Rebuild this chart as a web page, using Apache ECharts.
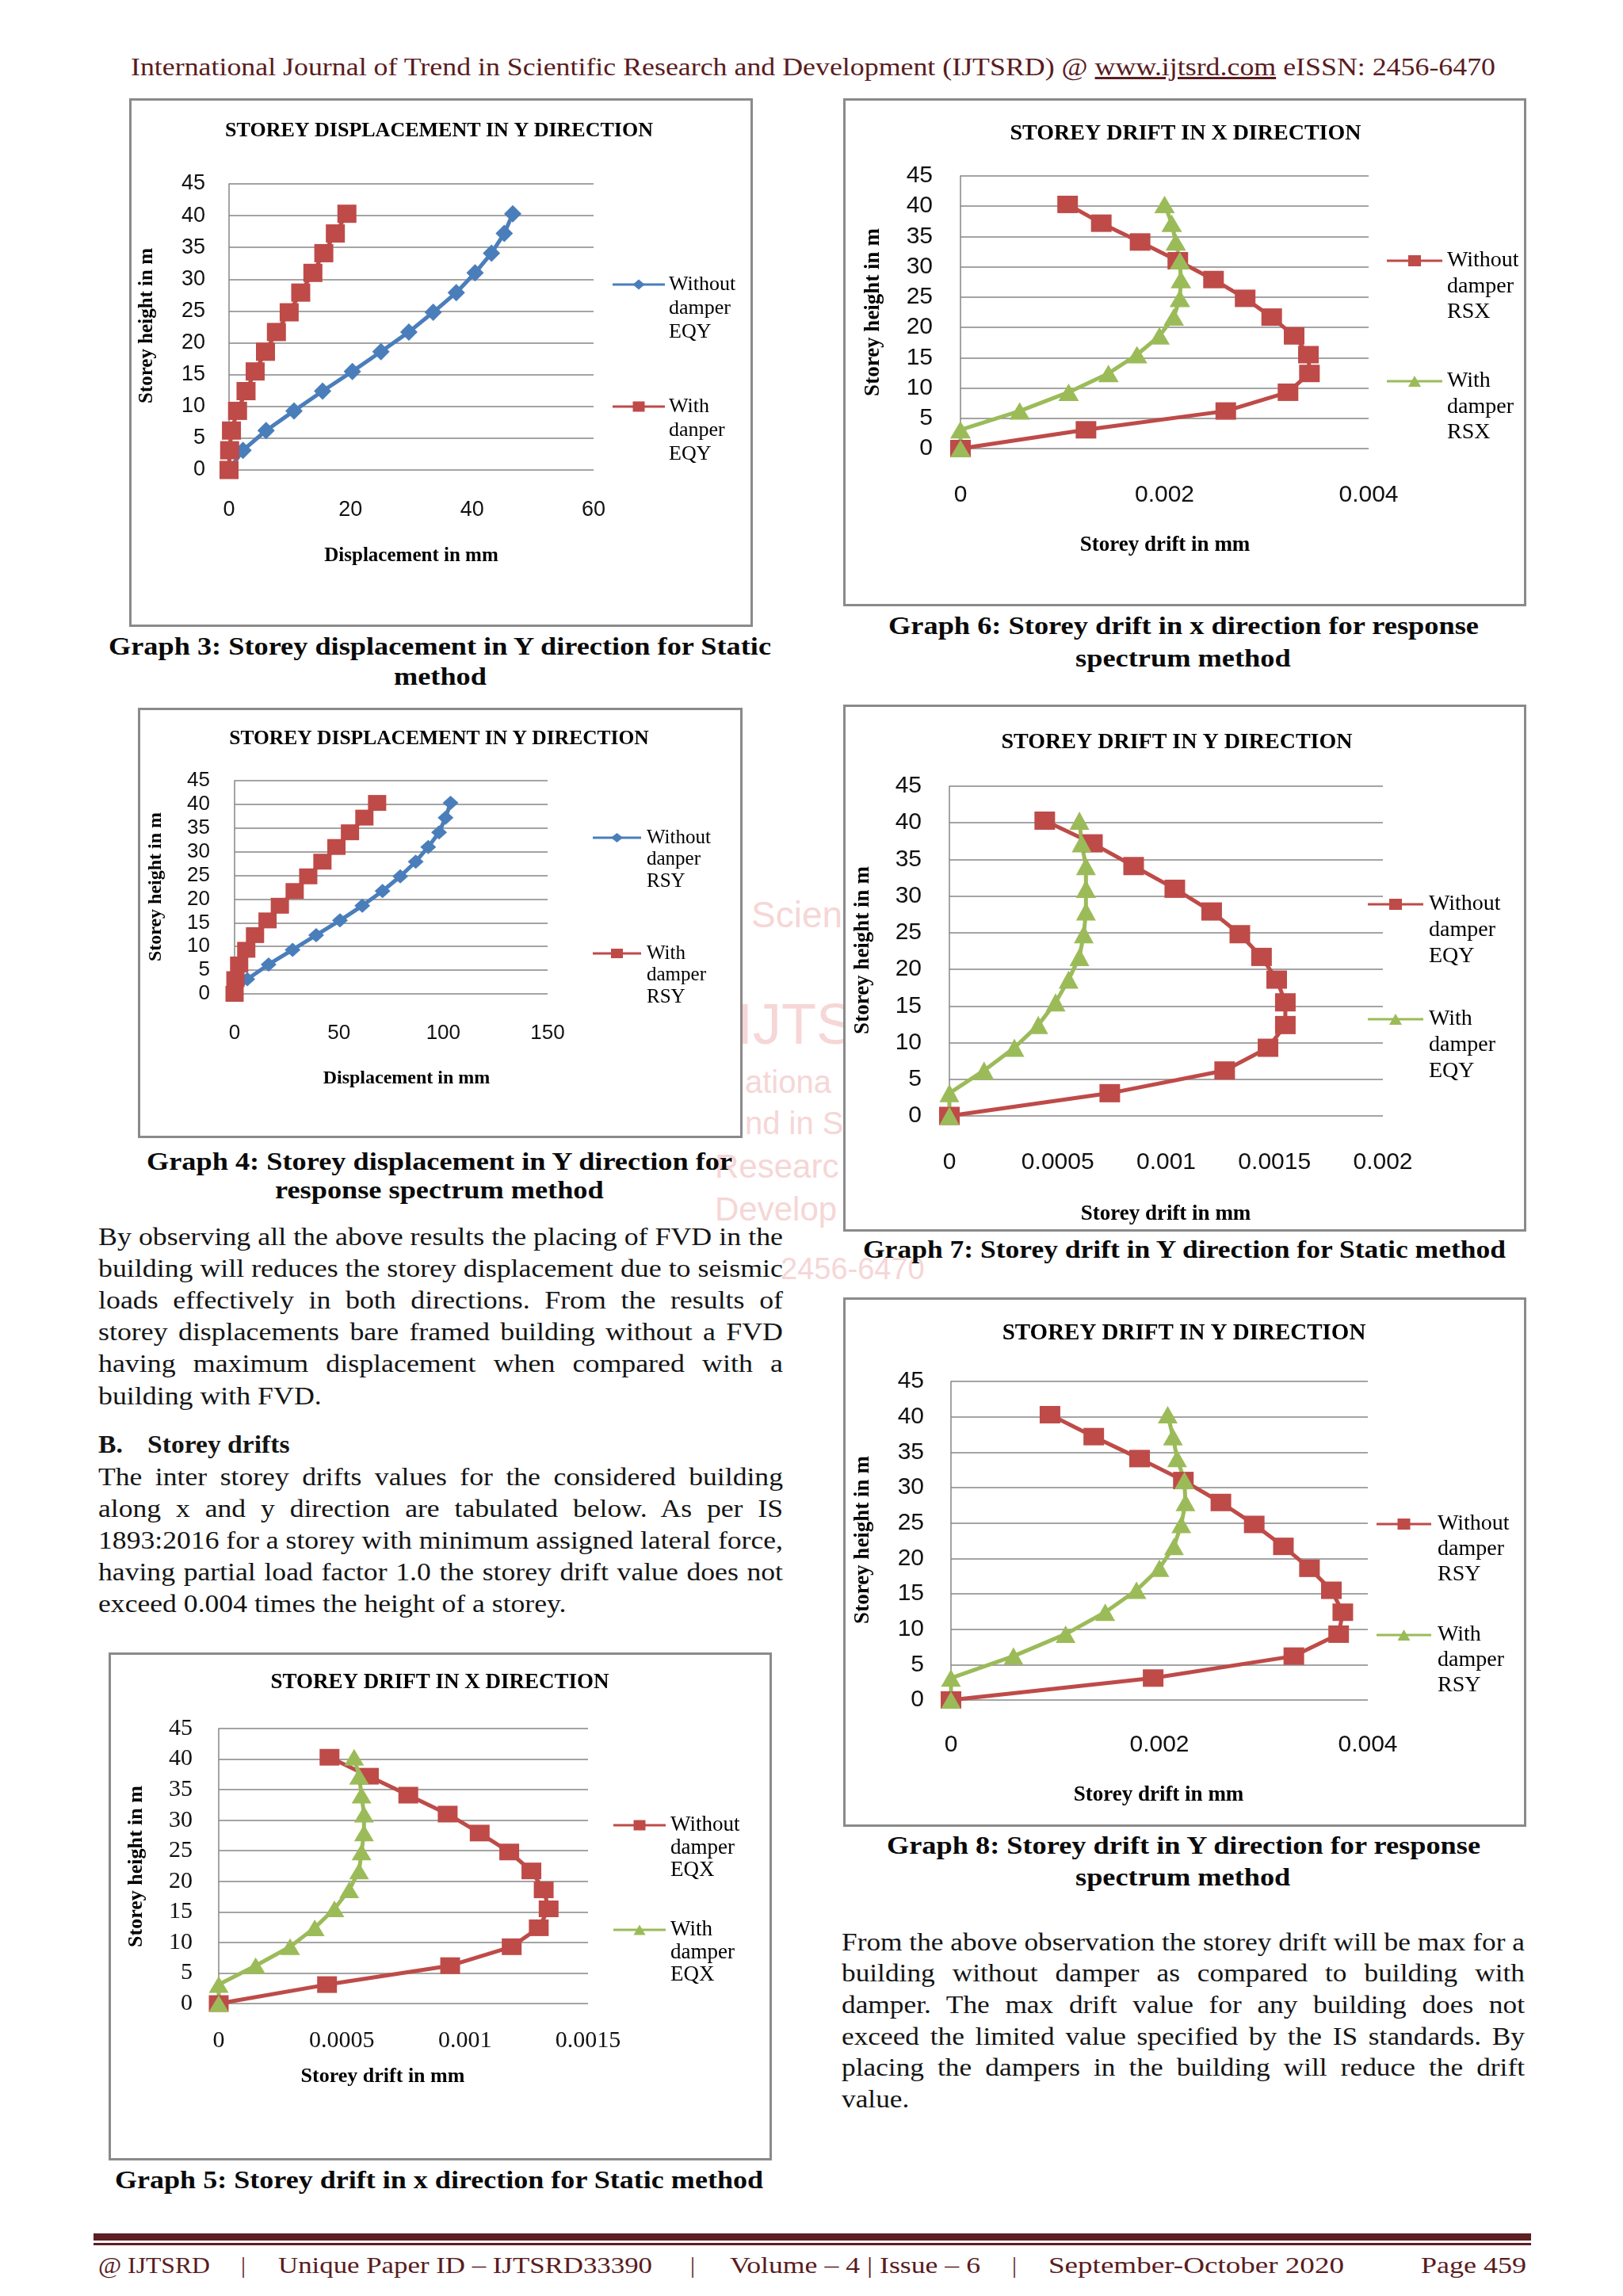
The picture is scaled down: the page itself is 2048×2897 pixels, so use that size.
<!DOCTYPE html>
<html><head><meta charset="utf-8">
<script src="https://cdn.jsdelivr.net/npm/echarts@6/dist/echarts.min.js"></script>
<style>
html,body{margin:0;padding:0;background:#fff;}
#page{position:relative;width:2048px;height:2897px;overflow:hidden;background:#fff;}
.chart{position:absolute;background:#fff;box-shadow:inset 0 0 0 3px #8a8a8a;z-index:2;}
.ln{position:absolute;white-space:nowrap;transform-origin:0 50%;z-index:3;}
.wm{position:absolute;white-space:nowrap;color:#f6d6d6;font-family:'Liberation Sans',sans-serif;z-index:1;}
.bar{position:absolute;background:#5c1f22;z-index:3;}
</style></head>
<body><div id="page"></div>
<script>
// ---------------- DATA ----------------
const storeyHeights = [0, 3.1, 6.2, 9.3, 12.4, 15.5, 18.6, 21.7, 24.8, 27.9, 31, 34.1, 37.2, 40.3];
const yTicks = [0, 5, 10, 15, 20, 25, 30, 35, 40, 45];

// Graph 3: storey displacement in Y (static)
const g3XTicks = [0, 20, 40, 60];
const g3Without = [0, 2.3, 6.1, 10.7, 15.4, 20.3, 25.0, 29.6, 33.6, 37.4, 40.5, 43.2, 45.3, 46.7];
const g3With = [0, 0.1, 0.4, 1.4, 2.8, 4.3, 6.0, 7.8, 9.9, 11.8, 13.8, 15.6, 17.5, 19.4];

// Graph 6: storey drift in X (response spectrum)
const g6XTicks = [0, 0.002, 0.004];
const g6Without = [0, 0.00123, 0.0026, 0.00321, 0.00342, 0.00341, 0.00327, 0.00305, 0.00279, 0.00248, 0.00213, 0.00176, 0.00138, 0.00105];
const g6With = [0, 0, 0.00058, 0.00106, 0.00145, 0.00173, 0.00195, 0.00209, 0.00215, 0.00216, 0.00215, 0.00211, 0.00207, 0.002];

// Graph 4: storey displacement in Y (response spectrum)
const g4XTicks = [0, 50, 100, 150];
const g4Without = [0, 6.1, 16.3, 27.8, 39.1, 50.5, 61.2, 70.9, 79.4, 86.8, 92.8, 98.0, 101.1, 103.5];
const g4With = [0, 0.4, 2.2, 5.6, 9.8, 15.8, 21.7, 28.8, 35.3, 42.1, 48.8, 55.3, 62.2, 68.3];

// Graph 7: storey drift in Y (static)
const g7XTicks = [0, 0.0005, 0.001, 0.0015, 0.002];
const g7Without = [0, 0.00074, 0.00127, 0.00147, 0.00155, 0.00155, 0.00151, 0.00144, 0.00134, 0.00121, 0.00104, 0.00085, 0.00066, 0.00044];
const g7With = [0, 0, 0.00016, 0.0003, 0.00041, 0.00049, 0.00055, 0.0006, 0.00062, 0.00063, 0.00063, 0.00063, 0.00061, 0.0006];

// Graph 8: storey drift in Y (response spectrum)
const g8XTicks = [0, 0.002, 0.004];
const g8Without = [0, 0.00194, 0.00329, 0.00372, 0.00376, 0.00365, 0.00344, 0.00319, 0.00291, 0.00259, 0.00223, 0.00181, 0.00137, 0.00095];
const g8With = [0, 0, 0.0006, 0.0011, 0.00148, 0.00178, 0.002, 0.00214, 0.00221, 0.00225, 0.00224, 0.00217, 0.00213, 0.00208];

// Graph 5: storey drift in X (static)
const g5XTicks = [0, 0.0005, 0.001, 0.0015];
const g5Without = [0, 0.00044, 0.00094, 0.00119, 0.0013, 0.00134, 0.00132, 0.00127, 0.00118, 0.00106, 0.00093, 0.00077, 0.00061, 0.00045];
const g5With = [0, 0, 0.00015, 0.00029, 0.00039, 0.00047, 0.00053, 0.00057, 0.00058, 0.00059, 0.00059, 0.00058, 0.00057, 0.00055];

// ---------------- STYLE ----------------
const BLUE = '#4a7ebb', RED = '#be4b48', GREEN = '#9bbb59';
const GRID_C = '#868686';
const SERIF = "'Liberation Serif', 'DejaVu Serif', serif";
const SANS = "'Liberation Sans', Arial, sans-serif";
const page = document.getElementById('page');

function fmt(v){ return String(parseFloat(Number(v).toPrecision(6))); }

function makeChart(c){
  const [fx, fy, fw, fh] = c.frame;
  const el = document.createElement('div');
  el.className = 'chart';
  Object.assign(el.style, {left: fx+'px', top: fy+'px', width: fw+'px', height: fh+'px'});
  page.appendChild(el);
  const chart = echarts.init(el, null, {renderer: 'canvas', width: fw, height: fh});
  const [gl, gt, gr, gb] = c.grid;
  const xt = c.xTicks;
  const graphics = [];
  const txt = (t, x, y, size, bold, extra) => Object.assign({
    type: 'text', x: x - fx, y: y - fy, silent: true,
    style: {text: t, font: (bold ? 'bold ' : '') + size + 'px ' + SERIF, fill: '#000',
            textAlign: 'center', textVerticalAlign: 'middle', verticalAlign: 'middle', align: 'center'}
  }, extra || {});
  graphics.push(txt(c.title[0], c.title[1], c.title[2], c.title[3], true));
  graphics.push(txt(c.xname[0], c.xname[1], c.xname[2], c.xname[3], true));
  graphics.push(txt(c.yname[0], c.yname[1], c.yname[2], c.yname[3], true, {rotation: Math.PI/2}));
  // legend
  const L = c.legend;
  c.series.forEach((s, i) => {
    const ly = L.ys[i] - fy;
    const x1 = L.x1 - fx, x2 = L.x2 - fx, mx = (x1 + x2)/2;
    graphics.push({type: 'line', silent: true, shape: {x1: x1, y1: ly, x2: x2, y2: ly}, style: {stroke: s.color, lineWidth: 3}});
    const [w, h] = L.msize;
    if (s.symbol === 'rect') {
      graphics.push({type: 'rect', silent: true, shape: {x: mx - w/2, y: ly - h/2, width: w, height: h}, style: {fill: s.color}});
    } else if (s.symbol === 'triangle') {
      graphics.push({type: 'polygon', silent: true, shape: {points: [[mx, ly - h/2], [mx + w/2, ly + h/2], [mx - w/2, ly + h/2]]}, style: {fill: s.color}});
    } else {
      graphics.push({type: 'polygon', silent: true, shape: {points: [[mx, ly - h/2], [mx + w/2, ly], [mx, ly + h/2], [mx - w/2, ly]]}, style: {fill: s.color}});
    }
    graphics.push({type: 'text', silent: true, x: L.tx - fx, y: ly - L.lh/2,
      style: {text: s.label, font: L.size + 'px ' + SERIF, fill: '#000', lineHeight: L.lh,
              textAlign: 'left', align: 'left', textVerticalAlign: 'top', verticalAlign: 'top'}});
  });
  chart.setOption({
    animation: false,
    backgroundColor: 'transparent',
    grid: {left: gl - fx, top: gt - fy, width: gr - gl, height: gb - gt, containLabel: false},
    xAxis: {
      type: 'value', min: xt[0], max: xt[xt.length - 1], interval: xt[1] - xt[0],
      axisLine: {show: false}, axisTick: {show: false}, splitLine: {show: false},
      axisLabel: {margin: c.tick.xm, fontSize: c.tick.size, fontFamily: c.tick.fam, color: '#111', formatter: fmt, showMinLabel: true, showMaxLabel: true}
    },
    yAxis: {
      type: 'value', min: yTicks[0], max: yTicks[yTicks.length - 1], interval: yTicks[1] - yTicks[0],
      axisLine: {show: true, lineStyle: {color: GRID_C, width: 1.5}},
      axisTick: {show: false},
      splitLine: {show: true, lineStyle: {color: GRID_C, width: 1.5}},
      axisLabel: {margin: c.tick.ym, fontSize: c.tick.size, fontFamily: c.tick.fam, color: '#111', formatter: fmt}
    },
    series: c.series.map(s => ({
      type: 'line', name: s.name,
      data: s.x.map((v, i) => [v, storeyHeights[i]]),
      symbol: s.symbol, symbolSize: s.size, showAllSymbol: true, showSymbol: true,
      clip: false, smooth: false,
      lineStyle: {color: s.color, width: c.lw},
      itemStyle: {color: s.color, borderWidth: 0},
      emphasis: {disabled: true}, silent: true
    })),
    graphic: graphics
  });
}

const charts = [
  { // Graph 3
    frame: [163, 124, 787, 667], grid: [289, 232, 749, 593], xTicks: g3XTicks, lw: 5,
    tick: {size: 27, fam: SANS, ym: 30, xm: 37},
    title: ['STOREY DISPLACEMENT IN Y DIRECTION', 554, 165, 26],
    xname: ['Displacement in mm', 519, 702, 25], yname: ['Storey height in m', 186, 411, 25],
    legend: {x1: 773, x2: 839, tx: 844, lh: 30, size: 26, ys: [359, 513], msize: [15, 13]},
    series: [
      {name: 'Without damper EQY', label: 'Without\ndamper\nEQY', x: g3Without, color: BLUE, symbol: 'diamond', size: [22, 22]},
      {name: 'With danper EQY', label: 'With\ndanper\nEQY', x: g3With, color: RED, symbol: 'rect', size: [24, 23]}
    ]
  },
  { // Graph 6
    frame: [1064, 124, 862, 641], grid: [1212, 222, 1727, 566], xTicks: g6XTicks, lw: 5,
    tick: {size: 30, fam: SANS, ym: 35, xm: 44},
    title: ['STOREY DRIFT IN X DIRECTION', 1496, 169, 28],
    xname: ['Storey drift in mm', 1470, 688, 27], yname: ['Storey height in m', 1102, 394, 27],
    legend: {x1: 1750, x2: 1820, tx: 1826, lh: 32.5, size: 28, ys: [329, 481], msize: [16, 14]},
    series: [
      {name: 'Without damper RSX', label: 'Without\ndamper\nRSX', x: g6Without, color: RED, symbol: 'rect', size: [26, 22]},
      {name: 'With damper RSX', label: 'With\ndamper\nRSX', x: g6With, color: GREEN, symbol: 'triangle', size: [26, 22]}
    ]
  },
  { // Graph 4
    frame: [174, 893, 763, 543], grid: [296, 985, 691, 1254], xTicks: g4XTicks, lw: 5,
    tick: {size: 26, fam: SANS, ym: 31, xm: 37},
    title: ['STOREY DISPLACEMENT IN Y DIRECTION', 554, 932, 25.5],
    xname: ['Displacement in mm', 513, 1361, 24], yname: ['Storey height in m', 197, 1119, 24],
    legend: {x1: 748, x2: 809, tx: 816, lh: 27.5, size: 25, ys: [1057, 1203], msize: [15, 12]},
    series: [
      {name: 'Without danper RSY', label: 'Without\ndanper\nRSY', x: g4Without, color: BLUE, symbol: 'diamond', size: [20, 18]},
      {name: 'With damper RSY', label: 'With\ndamper\nRSY', x: g4With, color: RED, symbol: 'rect', size: [23, 20]}
    ]
  },
  { // Graph 7
    frame: [1064, 889, 862, 665], grid: [1198, 992, 1745, 1408], xTicks: g7XTicks, lw: 5,
    tick: {size: 30, fam: SANS, ym: 35, xm: 44},
    title: ['STOREY DRIFT IN Y DIRECTION', 1485, 937, 28],
    xname: ['Storey drift in mm', 1471, 1532, 27], yname: ['Storey height in m', 1089, 1199, 27],
    legend: {x1: 1726, x2: 1796, tx: 1803, lh: 33, size: 28, ys: [1141, 1286], msize: [16, 14]},
    series: [
      {name: 'Without damper EQY', label: 'Without\ndamper\nEQY', x: g7Without, color: RED, symbol: 'rect', size: [26, 23]},
      {name: 'With damper EQY', label: 'With\ndamper\nEQY', x: g7With, color: GREEN, symbol: 'triangle', size: [25, 23]}
    ]
  },
  { // Graph 8
    frame: [1064, 1637, 862, 668], grid: [1200, 1743, 1726, 2145], xTicks: g8XTicks, lw: 5,
    tick: {size: 30, fam: SANS, ym: 34, xm: 42},
    title: ['STOREY DRIFT IN Y DIRECTION', 1494, 1683, 29],
    xname: ['Storey drift in mm', 1462, 2265, 27], yname: ['Storey height in m', 1089, 1943, 27],
    legend: {x1: 1737, x2: 1806, tx: 1814, lh: 32, size: 28, ys: [1923, 2063], msize: [16, 14]},
    series: [
      {name: 'Without damper RSY', label: 'Without\ndamper\nRSY', x: g8Without, color: RED, symbol: 'rect', size: [26, 22]},
      {name: 'With damper RSY', label: 'With\ndamper\nRSY', x: g8With, color: GREEN, symbol: 'triangle', size: [25, 22]}
    ]
  },
  { // Graph 5
    frame: [137, 2085, 837, 641], grid: [276, 2181, 742, 2528], xTicks: g5XTicks, lw: 5,
    tick: {size: 30, fam: SERIF, ym: 33, xm: 32},
    title: ['STOREY DRIFT IN X DIRECTION', 555, 2123, 27],
    xname: ['Storey drift in mm', 483, 2620, 26], yname: ['Storey height in m', 172, 2355, 26],
    legend: {x1: 774, x2: 840, tx: 846, lh: 28.5, size: 27, ys: [2303, 2435], msize: [15, 13]},
    series: [
      {name: 'Without damper EQX', label: 'Without\ndamper\nEQX', x: g5Without, color: RED, symbol: 'rect', size: [25, 21]},
      {name: 'With damper EQX', label: 'With\ndamper\nEQX', x: g5With, color: GREEN, symbol: 'triangle', size: [25, 21]}
    ]
  }
];

// ---------------- PAGE TEXT ----------------
function mkLine(o){
  const d = document.createElement('div');
  d.className = 'ln';
  const size = o.size || 29;
  const lh = Math.round(size * 1.25);
  d.style.font = (o.bold ? 'bold ' : '') + size + 'px ' + (o.family || SERIF);
  d.style.lineHeight = lh + 'px';
  d.style.color = o.color || '#141414';
  if (o.html) d.innerHTML = o.html; else d.textContent = o.text;
  page.appendChild(d);
  d._lh = lh;
  d._nat = d.getBoundingClientRect().width;
  return d;
}
function place(d, left, y, sc, ws){
  d.style.wordSpacing = (ws || 0) + 'px';
  d.style.left = left + 'px';
  d.style.top = (y - d._lh / 2) + 'px';
  d.style.transform = 'scaleX(' + sc + ')';
}
function addLine(o){
  const d = mkLine(o);
  let sc = o.scale || 1;
  if (o.w) sc = o.w / d._nat;
  const width = d._nat * sc;
  const left = o.anchor === 'center' ? o.x - width / 2 : o.x;
  place(d, left, o.y, sc, 0);
  return sc;
}

const MAROON = '#5a1c1e';
addLine({html: 'International Journal of Trend in Scientific Research and Development (IJTSRD) @ <u>www.ijtsrd.com</u> eISSN: 2456-6470',
  x: 165, y: 84, w: 1722, size: 32, color: MAROON});

// captions: [first line, second line or null, centerX, y1, y2, widthOfFirstLine]
const captions = [
  ['Graph 3: Storey displacement in Y direction for Static', 'method', 555, 815, 853, 836],
  ['Graph 6: Storey drift in x direction for response', 'spectrum method', 1493, 789, 830, 745],
  ['Graph 4: Storey displacement in Y direction for', 'response spectrum method', 554, 1465, 1501, 739],
  ['Graph 7: Storey drift in Y direction for Static method', null, 1494, 1576, 0, 811],
  ['Graph 8: Storey drift in Y direction for response', 'spectrum method', 1493, 2328, 2368, 749],
  ['Graph 5: Storey drift in x direction for Static method', null, 554, 2750, 0, 818]
];
captions.forEach(c => {
  const sc = addLine({text: c[0], x: c[2], y: c[3], w: c[5], anchor: 'center', bold: true, size: 32, color: '#0a0a0a'});
  if (c[1]) addLine({text: c[1], x: c[2], y: c[4], scale: sc, anchor: 'center', bold: true, size: 32, color: '#0a0a0a'});
});

function paragraph(lines, x, y0, pitch, w){
  const ds = lines.map(t => mkLine({text: t, size: 31}));
  let sc = 1.35;
  ds.forEach((d, i) => { if (i < ds.length - 1) sc = Math.min(sc, w / d._nat); });
  ds.forEach((d, i) => {
    const last = i === ds.length - 1;
    const n = (lines[i].match(/ /g) || []).length;
    const ws = (!last && n > 0) ? Math.max(0, (w / sc - d._nat) / n) : 0;
    place(d, x, y0 + i * pitch, sc, ws);
  });
}
paragraph([
  'By observing all the above results the placing of FVD in the',
  'building will reduces the storey displacement due to seismic',
  'loads effectively in both directions. From the results of',
  'storey displacements bare framed building without a FVD',
  'having maximum displacement when compared with a',
  'building with FVD.'
], 124, 1560, 40.2, 864);
addLine({text: 'B.', x: 124, y: 1822, bold: true, size: 32, scale: 1.05});
addLine({text: 'Storey drifts', x: 186, y: 1822, bold: true, size: 32, scale: 1.05});
paragraph([
  'The inter storey drifts values for the considered building',
  'along x and y direction are tabulated below. As per IS',
  '1893:2016 for a storey with minimum assigned lateral force,',
  'having partial load factor 1.0 the storey drift value does not',
  'exceed 0.004 times the height of a storey.'
], 124, 1863, 40.2, 864);
paragraph([
  'From the above observation the storey drift will be max for a',
  'building without damper as compared to building with',
  'damper. The max drift value for any building does not',
  'exceed the limited value specified by the IS standards. By',
  'placing the dampers in the building will reduce the drift',
  'value.'
], 1062, 2450, 39.7, 862);

// footer
[['bar', 118, 2818, 1814, 9], ['bar', 118, 2830, 1814, 2.5]].forEach(b => {
  const d = document.createElement('div'); d.className = b[0];
  Object.assign(d.style, {left: b[1] + 'px', top: b[2] + 'px', width: b[3] + 'px', height: b[4] + 'px'});
  page.appendChild(d);
});
[['@ IJTSRD', 124, 141], ['|', 304, 0], ['Unique Paper ID \u2013 IJTSRD33390', 351, 472], ['|', 871, 0],
 ['Volume \u2013 4 | Issue \u2013 6', 921, 316], ['|', 1277, 0], ['September-October 2020', 1323, 373], ['Page 459', 1793, 133]
].forEach(f => addLine({text: f[0], x: f[1], y: 2858, w: f[2] || 0, size: 30, color: MAROON}));

// faint watermark
[['Scien', 948, 1155, 46], ['IJTSR', 930, 1294, 72], ['ationa', 940, 1367, 40], ['nd in S', 940, 1419, 40],
 ['Researc', 902, 1473, 42], ['Develop', 902, 1527, 42], ['2456-6470', 985, 1603, 38]].forEach(w => {
  const d = document.createElement('div'); d.className = 'wm';
  d.textContent = w[0];
  Object.assign(d.style, {left: w[1] + 'px', top: (w[2] - w[3] * 0.6) + 'px', fontSize: w[3] + 'px'});
  page.appendChild(d);
});

charts.forEach(makeChart);
</script>
</body></html>
